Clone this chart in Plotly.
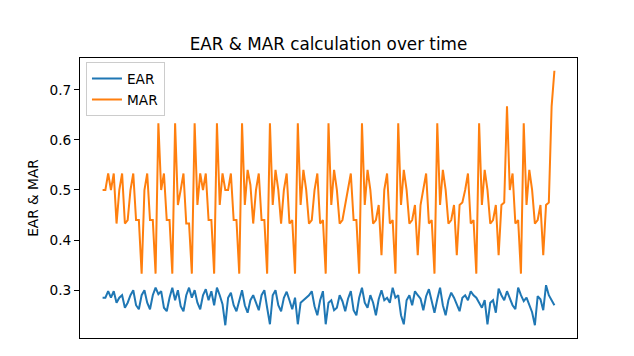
import plotly.graph_objects as go

# ---- data ----
mar = [
    0.5, 0.5, 0.533, 0.5, 0.533, 0.433, 0.5, 0.533, 0.433, 0.44, 0.5, 0.533, 0.44, 0.44, 0.333, 0.5, 0.533, 0.44, 0.44, 0.333, 0.633,
    0.5, 0.533, 0.44, 0.44, 0.333, 0.633,
    0.47, 0.5, 0.533, 0.433, 0.433, 0.333, 0.633,
    0.47, 0.533, 0.5, 0.533, 0.44, 0.44, 0.333, 0.633,
    0.47, 0.533, 0.5, 0.5, 0.533, 0.44, 0.44, 0.333, 0.633,
    0.47, 0.54, 0.51, 0.433, 0.5, 0.533, 0.44, 0.44, 0.333, 0.633,
    0.47, 0.54, 0.5, 0.433, 0.5, 0.533, 0.433, 0.44, 0.333, 0.633,
    0.47, 0.54, 0.5, 0.433, 0.44, 0.5, 0.533, 0.433, 0.44, 0.333, 0.633,
    0.47, 0.54, 0.5, 0.433, 0.44, 0.47, 0.5, 0.533, 0.44, 0.44, 0.333, 0.633,
    0.47, 0.54, 0.5, 0.433, 0.44, 0.47, 0.37, 0.5, 0.533, 0.433, 0.44, 0.333, 0.633,
    0.47, 0.54, 0.5, 0.433, 0.44, 0.47, 0.37, 0.47, 0.5, 0.533, 0.433, 0.44, 0.333, 0.633,
    0.47, 0.54, 0.5, 0.433, 0.44, 0.47, 0.37, 0.47, 0.475, 0.5, 0.533, 0.433, 0.44, 0.333, 0.633,
    0.47, 0.54, 0.5, 0.433, 0.44, 0.47, 0.37, 0.47, 0.475, 0.667,
    0.5, 0.533, 0.433, 0.44, 0.333, 0.633,
    0.47, 0.54, 0.5, 0.433, 0.44, 0.47, 0.37, 0.47, 0.475, 0.667, 0.738,
]

ear = [
    0.285, 0.285, 0.298, 0.285, 0.298, 0.275, 0.285, 0.29, 0.265, 0.275, 0.29, 0.30, 0.27, 0.262, 0.29, 0.30, 0.275, 0.262, 0.29, 0.305, 0.292,
    0.298, 0.265, 0.258, 0.285, 0.305, 0.28, 0.30, 0.268, 0.258, 0.29, 0.305, 0.285, 0.30, 0.275, 0.262, 0.29, 0.302, 0.28, 0.298, 0.27,
    0.305, 0.29, 0.272, 0.23, 0.285, 0.295, 0.27, 0.258, 0.28, 0.30, 0.27, 0.255, 0.28, 0.29, 0.275, 0.26, 0.29, 0.30, 0.265, 0.232,
    0.29, 0.30, 0.27, 0.258, 0.285, 0.297, 0.28, 0.262, 0.285, 0.232, 0.275, 0.28, 0.285, 0.29, 0.298, 0.268, 0.25, 0.28, 0.298, 0.232,
    0.275, 0.28, 0.26, 0.265, 0.29, 0.278, 0.258, 0.283, 0.298, 0.26, 0.25, 0.285, 0.305, 0.275, 0.265, 0.29, 0.275, 0.25, 0.282, 0.30,
    0.28, 0.285, 0.275, 0.305, 0.285, 0.29, 0.25, 0.232, 0.28, 0.29, 0.27, 0.298, 0.29, 0.283, 0.26, 0.288, 0.302, 0.28, 0.255, 0.282,
    0.305, 0.27, 0.25, 0.28, 0.295, 0.285, 0.27, 0.258, 0.285, 0.29, 0.28, 0.298, 0.29, 0.285, 0.275, 0.265, 0.28, 0.232, 0.275, 0.28,
    0.255, 0.303, 0.29, 0.28, 0.298, 0.283, 0.27, 0.262, 0.305, 0.29, 0.278, 0.285, 0.27, 0.256, 0.23, 0.288, 0.282, 0.26, 0.31, 0.29, 0.28, 0.27,
]

frames = list(range(len(mar)))
ytick_vals = [0.3, 0.4, 0.5, 0.6, 0.7]
ytick_text = ["0.3", "0.4", "0.5", "0.6", "0.7"]

fig = go.Figure()
fig.add_trace(go.Scatter(x=frames[:len(ear)], y=ear, mode="lines", name="EAR",
                         line=dict(color="#1f77b4", width=2)))
fig.add_trace(go.Scatter(x=frames, y=mar, mode="lines", name="MAR",
                         line=dict(color="#ff7f0e", width=2)))

n = len(frames)
xpad = 0.05 * (n - 1)
ymin = min(min(ear), min(mar))
ymax = max(max(ear), max(mar))
ypad = 0.05 * (ymax - ymin)

# page body has an 8px margin, so the figure is 8px smaller and margins shifted
W, H = 626, 348
fig.update_layout(
    width=W, height=H,
    margin=dict(l=72, r=57, t=50, b=18),
    plot_bgcolor="white", paper_bgcolor="white",
    font=dict(family="DejaVu Sans", size=13.7, color="black"),
    title=dict(text="EAR & MAR calculation over time", x=(328.5 - 8) / W, xanchor="center",
               y=1 - 36 / H, yanchor="middle", font=dict(size=16.8)),
    legend=dict(x=0.012, y=0.985, xanchor="left", yanchor="top",
                bordercolor="#cccccc", borderwidth=1, bgcolor="rgba(255,255,255,0.8)",
                font=dict(size=13.7), itemwidth=30, tracegroupgap=0),
    showlegend=True,
)
fig.update_xaxes(range=[-xpad, n - 1 + xpad], showticklabels=False, ticks="",
                 showgrid=False, zeroline=False, showline=True, linecolor="black",
                 linewidth=1, mirror=True)
fig.update_yaxes(range=[ymin - ypad, ymax + ypad], tickvals=ytick_vals, ticktext=ytick_text,
                 ticks="outside", ticklen=5, tickcolor="black", showgrid=False,
                 zeroline=False, showline=True, linecolor="black", linewidth=1, mirror=True,
                 title=dict(text="EAR & MAR", standoff=7, font=dict(size=13.7)))

fig.write_html("out.html")
